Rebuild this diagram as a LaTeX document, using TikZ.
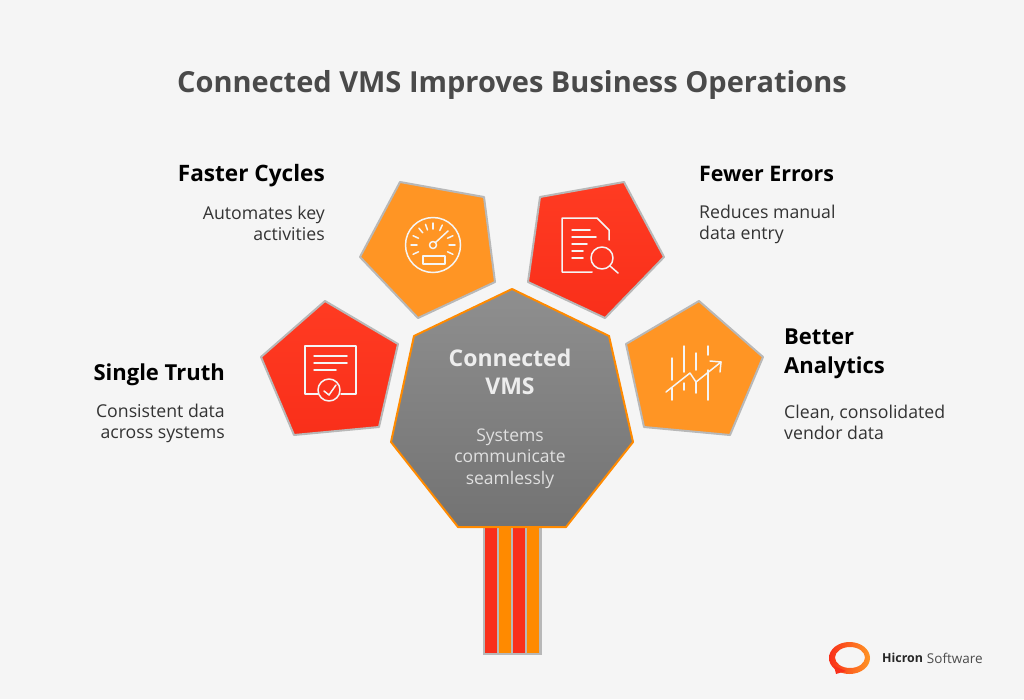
\documentclass[tikz,border=0pt]{standalone}
\usepackage{fontspec}
\setmainfont{Open Sans}
\usetikzlibrary{calc}
\usetikzlibrary{positioning}
\definecolor{pagebg}{HTML}{F5F5F5}
\definecolor{titlegrey}{HTML}{4A4A4A}
\definecolor{edgegrey}{HTML}{B8B8B8}
\definecolor{redtop}{HTML}{FF3B22}
\definecolor{redbot}{HTML}{F92F1A}
\definecolor{orangefill}{HTML}{FF9524}
\definecolor{orangeedge}{HTML}{FF8A00}
\definecolor{bodygrey}{HTML}{333333}

\begin{document}
\begin{tikzpicture}[x=1pt, y=-1pt]
   \tikzstyle{redpenta}=[draw=edgegrey, line width=2pt, line join=round, top color=redtop, bottom color=redbot]
   \tikzstyle{orangepenta}=[draw=edgegrey, line width=2pt, line join=round, fill=orangefill]
   \tikzstyle{hepta}=[draw=orangeedge, line width=2pt, line join=round, top color=black!44, bottom color=black!55]
   \tikzstyle{icon}=[draw=white!96!black, line width=1.5pt, line cap=round, line join=round]
   \tikzstyle{headtext}=[inner sep=0pt, text=black, font=\fontsize{22}{28.5}\selectfont\bfseries]
   \tikzstyle{bodytext}=[inner sep=0pt, text=bodygrey, font=\fontsize{17.7}{21}\selectfont]

   \useasboundingbox (0, 0) rectangle (1024, 699);
   \fill[pagebg] (0, 0) rectangle (1024, 699);

   % Title
   \draw (512, 84.5) node[text=titlegrey, font=\fontsize{29}{34}\selectfont\bfseries] (title) {Connected VMS Improves Business Operations};

   % Stem under the centre
   \fill[edgegrey] (483, 527) rectangle (542, 655);
   \fill[redbot] (485, 527) rectangle (497, 653);
   \fill[orangeedge] (499, 527) rectangle (511, 653);
   \fill[redbot] (513, 527) rectangle (525, 653);
   \fill[orangeedge] (527, 527) rectangle (539, 653);

   % Pentagons
   \path[orangepenta] (400, 182) -- (484, 197) -- (495, 282) -- (418, 318) -- (360, 257) -- cycle;
   \path[redpenta] (325, 301) -- (398, 344) -- (379, 427) -- (294, 435) -- (261, 357) -- cycle;
   \path[redpenta] (624, 182) -- (664, 257) -- (605, 318) -- (528, 282) -- (540, 197) -- cycle;
   \path[orangepenta] (699, 301) -- (763, 357) -- (730, 435) -- (644, 427) -- (626, 344) -- cycle;

   % Centre
   \path[hepta] (512, 289) -- (609, 336) -- (633, 442) -- (566, 527) -- (458, 527) -- (391, 442) -- (414, 336) -- cycle;
   \draw (510, 372) node[headtext, text=white!93!black, align=center, font=\fontsize{23}{28.5}\selectfont\bfseries] (centerhead) {Connected\\VMS};
   \draw (510, 458.5) node[bodytext, text=white!88!black, align=center, font=\fontsize{17.5}{21.5}\selectfont] (centerbody) {Systems\\communicate\\seamlessly};

   % Left labels
   \draw (325, 175.5) node[headtext, anchor=east, font=\fontsize{22.6}{28}\selectfont\bfseries] (fasterhead) {Faster Cycles};
   \draw (325, 223) node[bodytext, anchor=east, align=right] (fasterbody) {Automates key\\activities};
   \draw (225, 375) node[headtext, anchor=east] (singlehead) {Single Truth};
   \draw (225, 423) node[bodytext, anchor=east, align=right] (singlebody) {Consistent data\\across systems};
   % Right labels
   \draw (699, 174) node[headtext, anchor=west, font=\fontsize{21.4}{28}\selectfont\bfseries] (fewerhead) {Fewer Errors};
   \draw (699, 224) node[bodytext, anchor=west, align=left] (fewerbody) {Reduces manual\\data entry};
   \draw (784, 354) node[headtext, anchor=west, align=left] (betterhead) {Better\\Analytics};
   \draw (784, 422) node[bodytext, anchor=west, align=left] (betterbody) {Clean, consolidated\\vendor data};

   % Gauge icon
   \draw[icon] (433, 245) circle (27.5);
   \draw[icon] (433, 245) circle (3.5);
   \draw[icon] (435.5, 242.5) -- (448, 231);
   \draw[icon] (423, 256) rectangle (445, 264);
   \foreach \a in {-25, 0, 25, 65, 90, 110, 130, 155, 180, 205}
      \draw[icon] ($(433, 245)+(\a:16 and -16)$) -- ($(433, 245)+(\a:22 and -22)$);

   % Certificate icon
   \draw[icon] (318, 394) -- (305, 394) -- (305, 346) -- (356, 346) -- (356, 394) -- (341, 394);
   \draw[icon] (329, 390) circle (11);
   \draw[icon] (314, 356) -- (347, 356);
   \draw[icon] (314, 363) -- (347, 363);
   \draw[icon] (314, 370) -- (336, 370);
   \draw[icon] (324, 391) -- (329, 395) -- (336, 385);

   % Document icon
   \draw[icon] (592, 272) -- (562, 272) -- (562, 218) -- (597, 218) -- (609, 230) -- (609, 240);
   \draw[icon] (572, 230) -- (590, 230);
   \draw[icon] (572, 237) -- (596, 237);
   \draw[icon] (572, 244) -- (587, 244);
   \draw[icon] (572, 251) -- (583, 251);
   \draw[icon] (572, 258) -- (583, 258);
   \draw[icon] (602, 258) circle (11);
   \draw[icon] (610, 266) -- (618, 273);

   % Chart icon
   \draw[icon] (672, 358) -- (672, 380);
   \draw[icon] (672, 388) -- (672, 400);
   \draw[icon] (684, 346) -- (684, 372);
   \draw[icon] (684, 383) -- (684, 390);
   \draw[icon] (696, 353) -- (696, 370);
   \draw[icon] (696, 382) -- (696, 393);
   \draw[icon] (708, 346) -- (708, 355);
   \draw[icon] (708, 370) -- (708, 400);
   \draw[icon] (666, 392) -- (690, 373) -- (696, 382) -- (721, 362);
   \draw[icon] (710, 361) -- (721, 362) -- (720, 372);

   % Logo
   \path[left color=redbot, right color=orangefill, even odd rule]
      (849.5, 658) ellipse (20.5 and 16) (850, 657.5) ellipse (15 and 10.5);
   \fill[redbot] (834, 666) -- (846, 671) -- (836, 674) -- cycle;
   \draw (882, 658) node[anchor=west, inner sep=0pt, text=black!85, font=\fontsize{12.4}{16}\selectfont\bfseries] (logoa) {Hicron};
   \draw (logoa.east) node[anchor=west, inner sep=0pt, xshift=3.5pt, text=black!70, font=\fontsize{13.5}{16}\selectfont] (logob) {Software};
\end{tikzpicture}
\end{document}
